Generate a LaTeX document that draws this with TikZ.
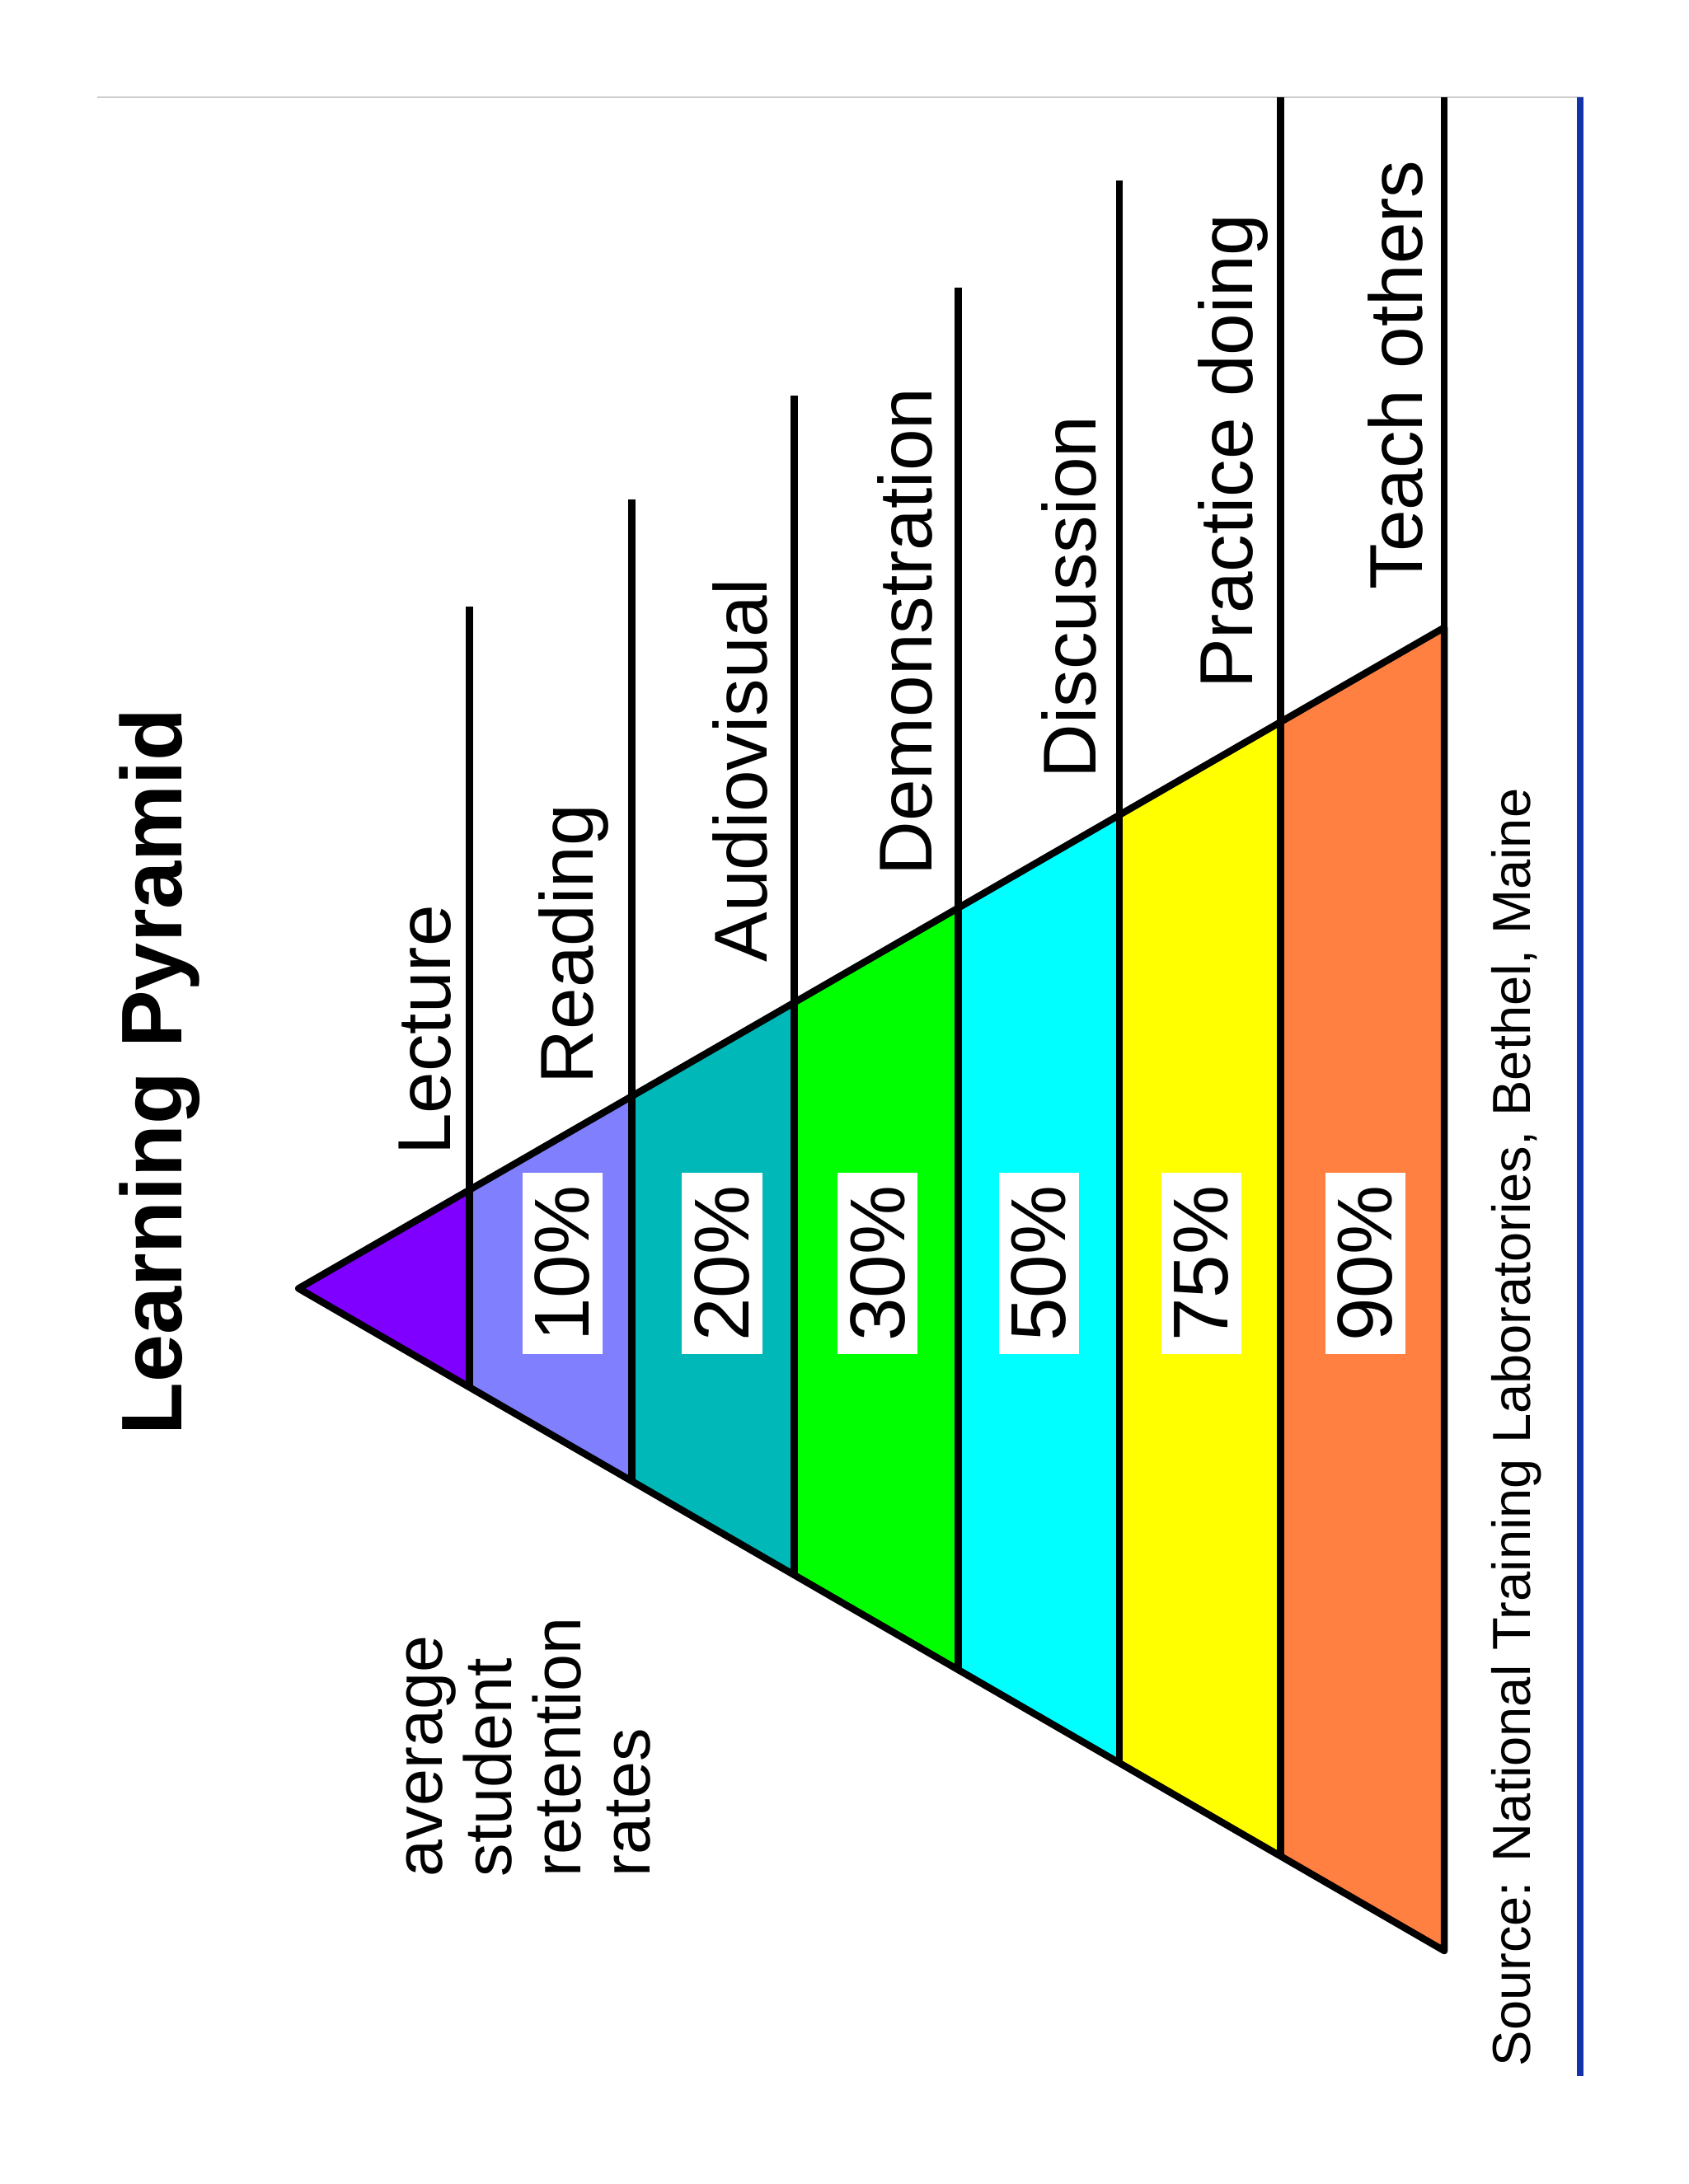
\documentclass[tikz,border=0pt]{standalone}
\usepackage{fontspec}
\setmainfont{Liberation Sans}
\begin{document}
\begin{tikzpicture}[x=0.5pt,y=-0.5pt,
  lbl/.style={rotate=90,font=\fontsize{27}{30}\selectfont,inner sep=0pt},
  pct/.style={rotate=90,fill=white,font=\fontsize{28}{30}\selectfont,inner sep=4.5pt},
  div/.style={line width=2.5pt,black}]
\useasboundingbox (0,0) rectangle (1216,1573);
\fill[white] (0,0) rectangle (1216,1573);
\definecolor{rule}{RGB}{20,50,170}
\draw[gray!40,line width=0.6pt] (70,70) -- (1140,70);
\draw[rule,line width=2.5pt] (1138,70) -- (1138,1495);
\fill[fill={rgb,255:red,127;green,0;blue,255}] (215,928) -- (338,857) -- (338,999) -- cycle;
\foreach \a/\b/\c in {338/455/{128,128,255},455/572/{0,184,184},572/690/{0,255,0},690/806/{0,255,255},806/922/{255,255,0},922/1040/{255,128,64}}{
  \definecolor{bc}{RGB}{\c}
  \fill[bc] (\a,{928-0.577*(\a-215)}) -- (\b,{928-0.577*(\b-215)}) -- (\b,{928+0.578*(\b-215)}) -- (\a,{928+0.578*(\a-215)}) -- cycle;
}
\draw[line width=2.5pt,line join=round] (215,928) -- (1040,452) -- (1040,1405) -- cycle;
\foreach \x/\t in {338/437,455/360,572/285,690/207,806/130,922/70,1040/70}{
  \draw[div] (\x,\t) -- (\x,{928+0.578*(\x-215)});
}
\node[rotate=90,font=\bfseries\fontsize{31}{34}\selectfont] (title) at (115,772) {Learning Pyramid};
\node[lbl] (l1) at (306,742) {Lecture};
\node[lbl] (l2) at (413,680) {Reading};
\node[lbl] (l3) at (533,555) {Audiovisual};
\node[lbl] (l4) at (652,455) {Demonstration};
\node[lbl] (l5) at (770,430) {Discussion};
\node[lbl] (l6) at (888,325) {Practice doing};
\node[lbl] (l7) at (1005,270) {Teach others};
\node[pct] (p1) at (405,910) {10\%};
\node[pct] (p2) at (520,910) {20\%};
\node[pct] (p3) at (632,910) {30\%};
\node[pct] (p4) at (748,910) {50\%};
\node[pct] (p5) at (865,910) {75\%};
\node[pct] (p6) at (983,910) {90\%};
\node[rotate=90,anchor=north west,align=left,inner sep=0pt,font=\fontsize{24}{25}\selectfont] (avg) at (292,1352) {average\\student\\retention\\rates};
\node[rotate=90,font=\fontsize{19.3}{22}\selectfont,inner sep=0pt] (src) at (1092,1028) {Source: National Training Laboratories, Bethel, Maine};
\end{tikzpicture}
\end{document}
